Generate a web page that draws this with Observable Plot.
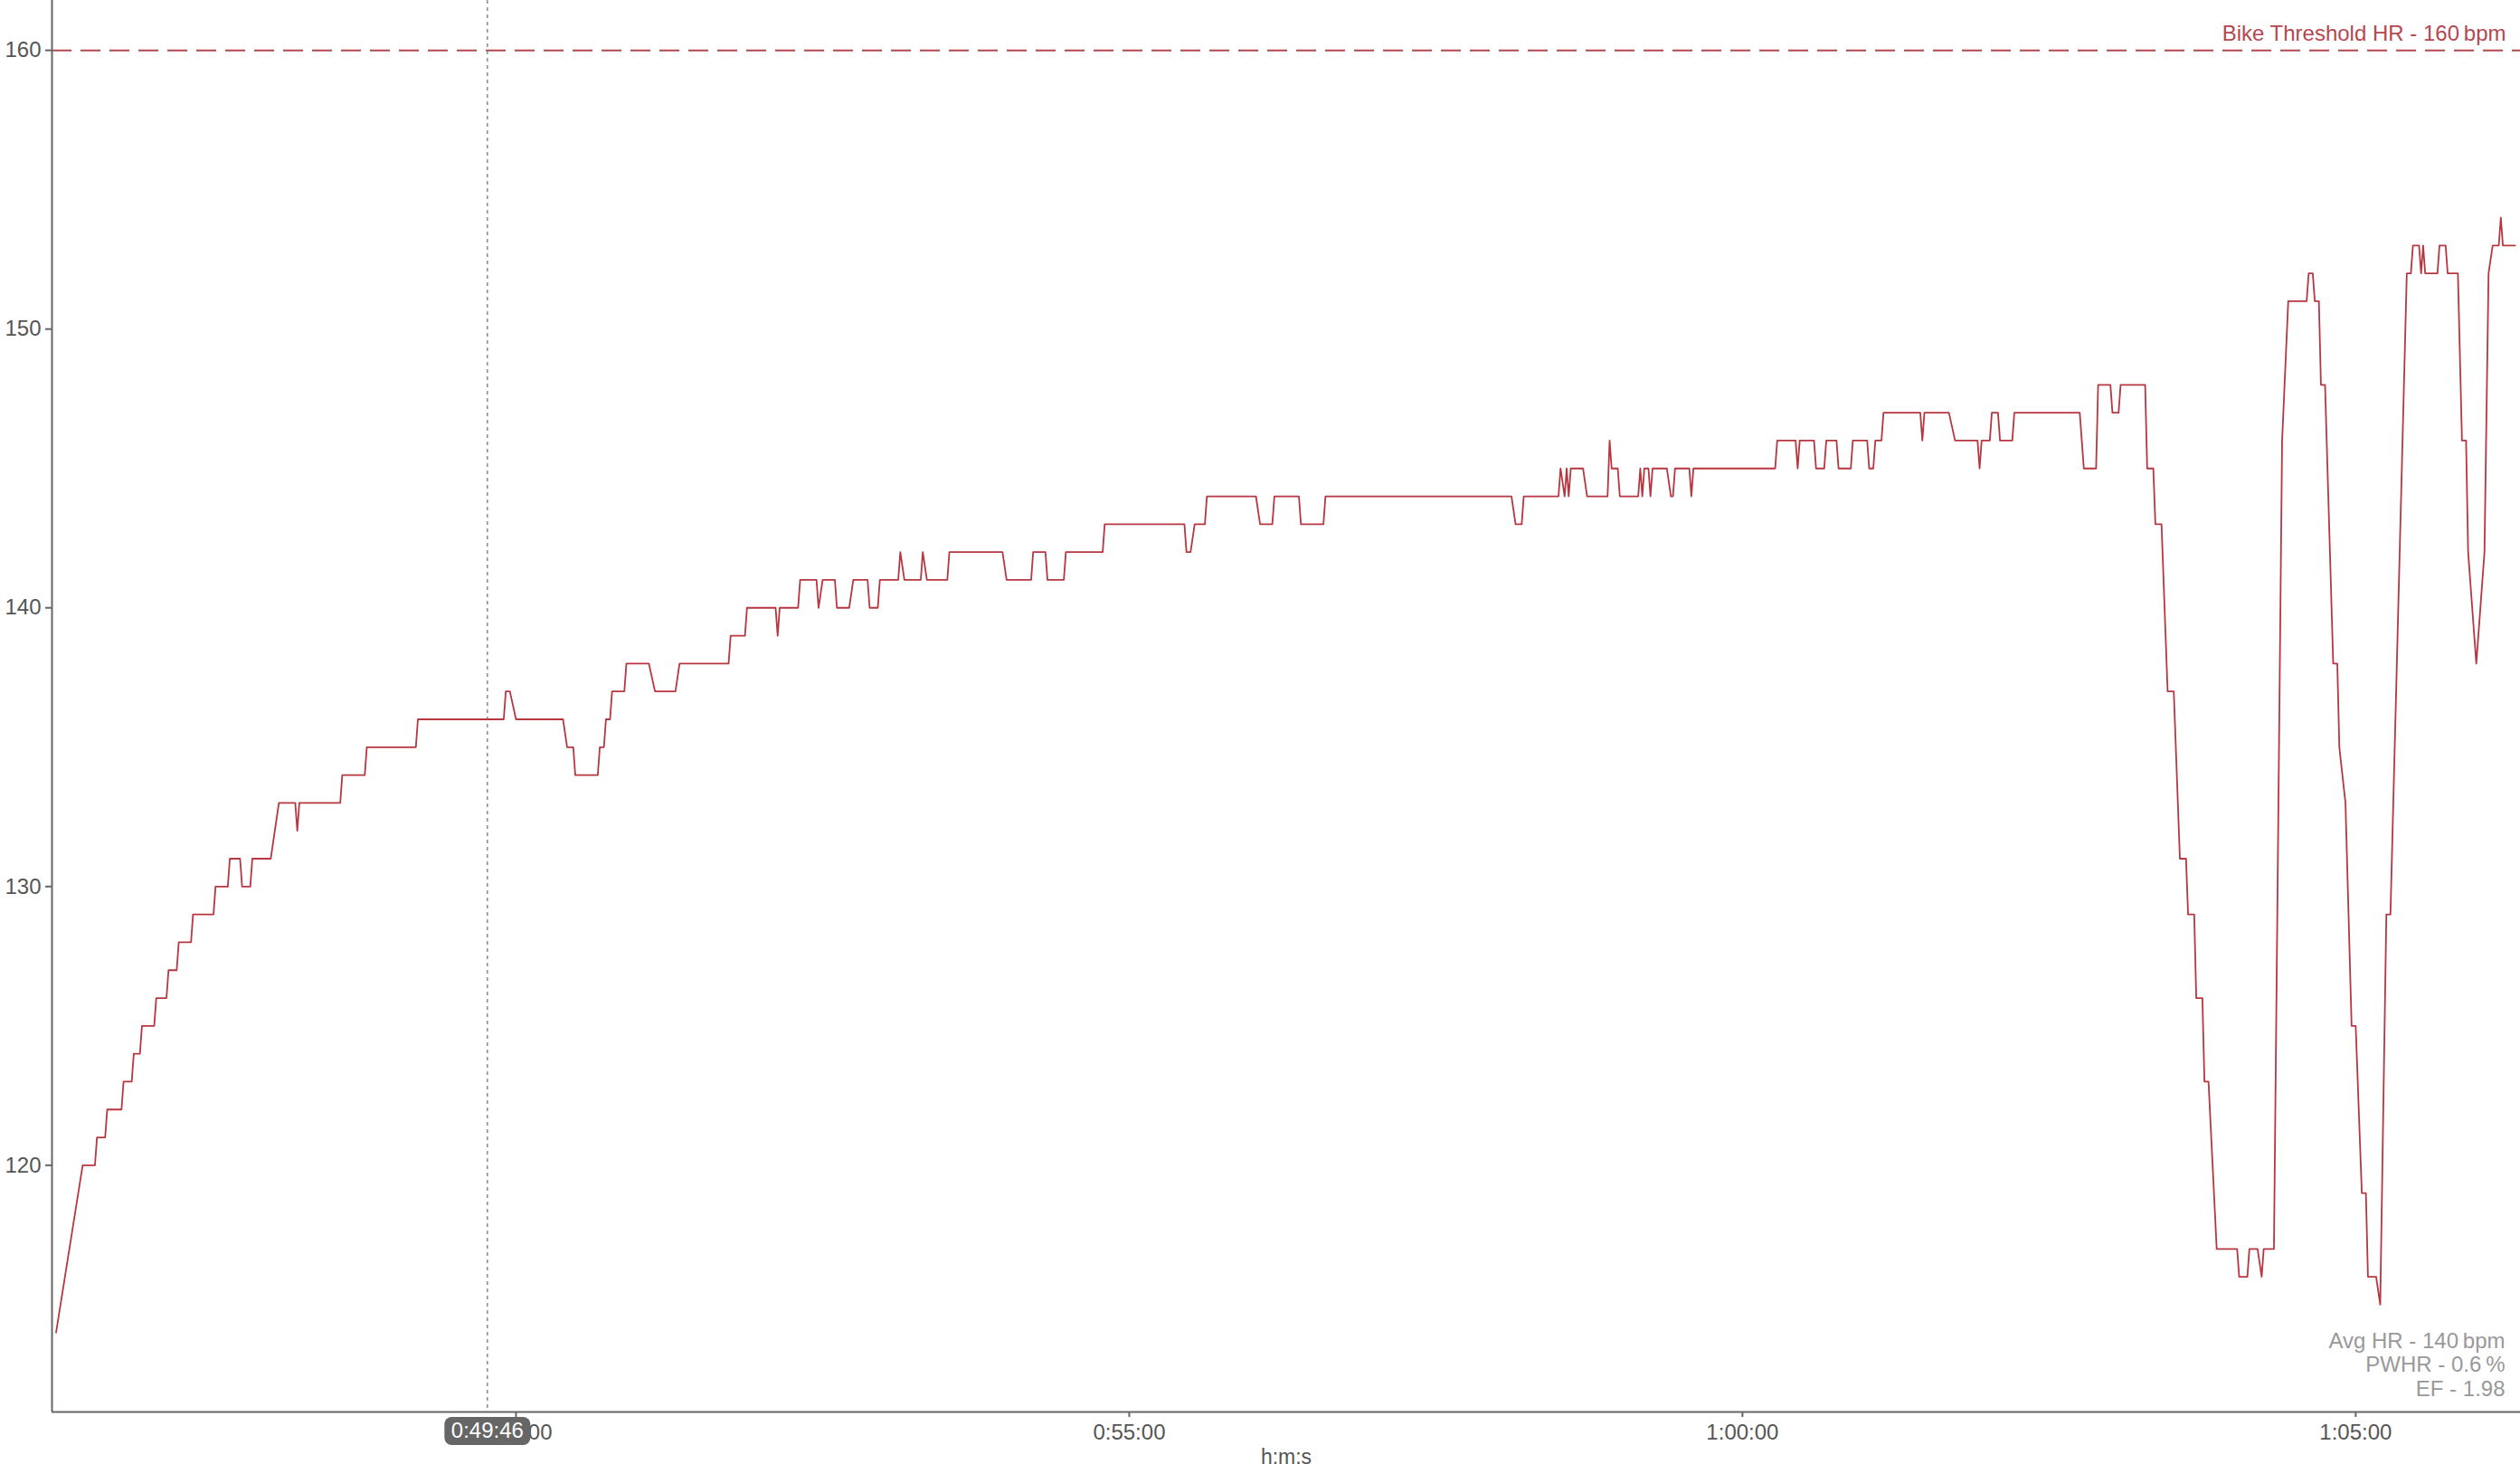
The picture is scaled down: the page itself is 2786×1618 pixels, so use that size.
<!DOCTYPE html>
<html>
<head>
<meta charset="utf-8">
<script src="https://cdn.jsdelivr.net/npm/d3@7"></script>
<script src="https://cdn.jsdelivr.net/npm/@observablehq/plot@0.6"></script>
<style>
  html, body { margin: 0; padding: 0; background: #fff; }
  #chart svg { display: block; }
</style>
</head>
<body>
<div id="chart"></div>
<script>
// elapsed time in seconds
const times = [
  2775, 2788, 2794, 2795, 2799, 2800, 2807, 2808, 2812, 2813, 2816, 2817, 2823, 2824, 2829, 2830,
  2834, 2835, 2841, 2842, 2852, 2853, 2859, 2860, 2865, 2866, 2870, 2871, 2880, 2884, 2892, 2893,
  2894, 2914, 2915, 2926, 2927, 2951, 2952, 2994, 2995, 2997, 3000, 3023, 3025, 3028, 3029, 3040,
  3041, 3043, 3044, 3046, 3047, 3053, 3054, 3065, 3068, 3078, 3080, 3104, 3105, 3112, 3113, 3127,
  3128, 3129, 3138, 3139, 3147, 3148, 3150, 3156, 3157, 3163, 3165, 3172, 3173, 3177, 3178, 3187,
  3188, 3190, 3198, 3199, 3201, 3211, 3212, 3238, 3240, 3252, 3253, 3259, 3260, 3268, 3269, 3287,
  3288, 3327, 3328, 3330, 3332, 3337, 3338, 3362, 3364, 3370, 3371, 3383, 3384, 3395, 3396, 3487,
  3489, 3492, 3493, 3510, 3511, 3513, 3514, 3515, 3516, 3522, 3524, 3534, 3535, 3536, 3539, 3540,
  3549, 3550, 3551, 3552, 3554, 3555, 3556, 3563, 3565, 3566, 3567, 3574, 3575, 3576, 3616, 3617,
  3626, 3627, 3628, 3635, 3636, 3640, 3641, 3646, 3647, 3653, 3654, 3661, 3662, 3664, 3665, 3668,
  3669, 3687, 3688, 3689, 3701, 3704, 3715, 3716, 3717, 3721, 3722, 3725, 3726, 3732, 3733, 3765,
  3767, 3773, 3774, 3780, 3781, 3784, 3785, 3797, 3798, 3801, 3802, 3805, 3808, 3811, 3814, 3817,
  3818, 3821, 3822, 3825, 3826, 3828, 3832, 3842, 3843, 3847, 3848, 3852, 3854, 3855, 3860, 3864,
  3867, 3876, 3877, 3879, 3880, 3882, 3883, 3885, 3889, 3891, 3892, 3895, 3898, 3900, 3903, 3905,
  3906, 3910, 3912, 3915, 3917, 3925, 3927, 3928, 3931, 3932, 3933, 3934, 3940, 3941, 3944, 3945,
  3950, 3952, 3954, 3955, 3959, 3963, 3965, 3967, 3970, 3971, 3972, 3978
];
// heart rate, bpm
const hr = [
  114, 120, 120, 121, 121, 122, 122, 123, 123, 124, 124, 125, 125, 126, 126, 127,
  127, 128, 128, 129, 129, 130, 130, 131, 131, 130, 130, 131, 131, 133, 133, 132,
  133, 133, 134, 134, 135, 135, 136, 136, 137, 137, 136, 136, 135, 135, 134, 134,
  135, 135, 136, 136, 137, 137, 138, 138, 137, 137, 138, 138, 139, 139, 140, 140,
  139, 140, 140, 141, 141, 140, 141, 141, 140, 140, 141, 141, 140, 140, 141, 141,
  142, 141, 141, 142, 141, 141, 142, 142, 141, 141, 142, 142, 141, 141, 142, 142,
  143, 143, 142, 142, 143, 143, 144, 144, 143, 143, 144, 144, 143, 143, 144, 144,
  143, 143, 144, 144, 145, 144, 145, 144, 145, 145, 144, 144, 146, 145, 145, 144,
  144, 145, 144, 145, 145, 144, 145, 145, 144, 144, 145, 145, 144, 145, 145, 146,
  146, 145, 146, 146, 145, 145, 146, 146, 145, 145, 146, 146, 145, 145, 146, 146,
  147, 147, 146, 147, 147, 146, 146, 145, 146, 146, 147, 147, 146, 146, 147, 147,
  145, 145, 148, 148, 147, 147, 148, 148, 145, 145, 143, 143, 137, 137, 131, 131,
  129, 129, 126, 126, 123, 123, 117, 117, 116, 116, 117, 117, 116, 117, 117, 146,
  151, 151, 152, 152, 151, 151, 148, 148, 138, 138, 135, 133, 125, 125, 119, 119,
  116, 116, 115, 129, 129, 152, 152, 153, 153, 152, 153, 152, 152, 153, 153, 152,
  152, 146, 146, 142, 138, 142, 152, 153, 153, 154, 153, 153
];
const xDomain = [2773, 3980.6];
const yDomain = [111.15, 161.79];
const xTicks = [3000, 3300, 3600, 3900];
const yTicks = [120, 130, 140, 150, 160];
const thresholdHR = [160];
const thresholdLabel = ["Bike Threshold HR - 160\u2009bpm"];
const cursorTime = [2986];
const cursorLabel = ["0:49:46"];
const statsLabel = ["Avg HR - 140\u2009bpm\nPWHR - 0.6\u2009%\nEF - 1.98"];
const xLabel = ["h:m:s"];

const data = times.map((t, i) => ({t, hr: hr[i]}));

function hms(s) {
  const h = Math.floor(s / 3600);
  const m = Math.floor((s % 3600) / 60);
  const sec = Math.round(s % 60);
  return `${h}:${String(m).padStart(2, "0")}:${String(sec).padStart(2, "0")}`;
}

// rounded-rect symbol for the cursor label
const pillSymbol = {
  draw(ctx) {
    const w = 95, h = 31, r = 8, x0 = -w / 2, y0 = -h / 2;
    ctx.moveTo(x0 + r, y0);
    ctx.lineTo(x0 + w - r, y0);
    ctx.arcTo(x0 + w, y0, x0 + w, y0 + r, r);
    ctx.lineTo(x0 + w, y0 + h - r);
    ctx.arcTo(x0 + w, y0 + h, x0 + w - r, y0 + h, r);
    ctx.lineTo(x0 + r, y0 + h);
    ctx.arcTo(x0, y0 + h, x0, y0 + h - r, r);
    ctx.lineTo(x0, y0 + r);
    ctx.arcTo(x0, y0, x0 + r, y0, r);
    ctx.closePath();
  }
};

const FONT = "'Liberation Sans', Arial, Helvetica, sans-serif";
const FS = 24;
const lineColor = "#b8363f";
const axisColor = "#666";

const chart = Plot.plot({
  width: 2786,
  height: 1618,
  marginTop: 0,
  marginRight: 0,
  marginBottom: 58,
  marginLeft: 57,
  style: {fontFamily: FONT, fontSize: `${FS}px`, background: "#fff", overflow: "visible"},
  x: {domain: xDomain},
  y: {domain: yDomain},
  marks: [
    Plot.ruleY(thresholdHR, {stroke: "#b5474f", strokeWidth: 2, strokeDasharray: "22,10"}),
    Plot.ruleX(cursorTime, {stroke: "#8a8a8a", strokeWidth: 1.5, strokeDasharray: "4,4"}),
    Plot.line(data, {x: "t", y: "hr", stroke: lineColor, strokeWidth: 1.8, curve: "linear"}),
    Plot.text(thresholdLabel, {
      x: xDomain[1], y: thresholdHR[0], text: d => d, textAnchor: "end", lineAnchor: "bottom",
      dx: -16, dy: -11, fill: "#b5474f", fontSize: FS
    }),
    Plot.text(statsLabel, {
      frameAnchor: "bottom-right", text: d => d, textAnchor: "end", lineAnchor: "bottom",
      dx: -17, dy: -18, fill: "#999", fontSize: FS, lineHeight: 1.1
    }),
    Plot.ruleX([xDomain[0]], {stroke: axisColor, strokeWidth: 2}),
    Plot.ruleY([yDomain[0]], {stroke: axisColor, strokeWidth: 2}),
    Plot.axisY({ticks: yTicks, tickSize: 7, tickPadding: 5, stroke: axisColor, strokeWidth: 2, fill: "#555", fontSize: FS, label: null}),
    Plot.axisX({ticks: xTicks, tickFormat: hms, tickSize: 6, tickPadding: 7, stroke: axisColor, strokeWidth: 2, fill: "#555", fontSize: FS, label: null}),
    Plot.dot(cursorTime, {x: d => d, frameAnchor: "bottom", dy: 21, symbol: pillSymbol, fill: "#666", stroke: "none", r: 10}),
    Plot.text(cursorLabel, {x: () => cursorTime[0], frameAnchor: "bottom", dy: 21, text: d => d, fill: "#fff", fontSize: FS, lineAnchor: "middle"}),
    Plot.text(xLabel, {frameAnchor: "bottom", text: d => d, dy: 57, lineAnchor: "bottom", fill: "#555", fontSize: 23})
  ]
});

document.getElementById("chart").appendChild(chart);
</script>
</body>
</html>
